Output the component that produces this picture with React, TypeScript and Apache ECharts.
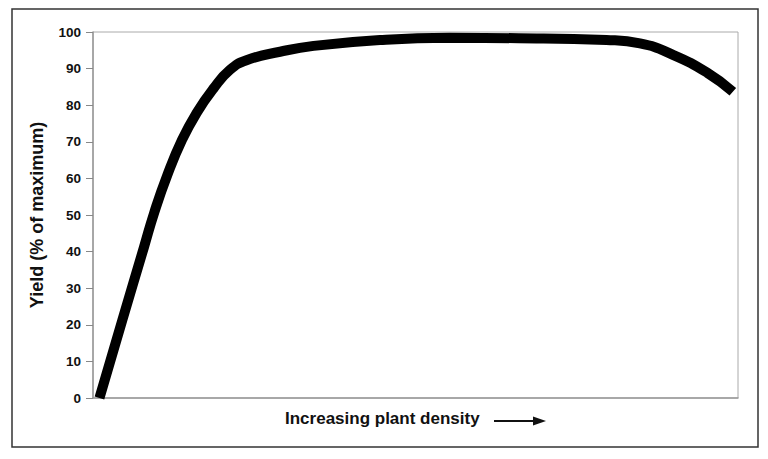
import { useEffect, useRef } from 'react';
import * as echarts from 'echarts';

// plant density (relative position along the axis, 0-100) and yield (% of maximum)
const density = [1.0, 4.5, 7.9, 9.5, 11.5, 13.8, 16.1, 18.7, 21.2, 23.8, 29.0, 34.2, 44.5, 55.3, 66.0, 79.6, 84.8, 90.0, 95.2, 99.2];
const yieldPct = [0, 21.0, 41.2, 50.7, 60.8, 70.5, 78.0, 84.6, 89.6, 92.3, 94.6, 96.2, 97.8, 98.4, 98.3, 97.8, 96.9, 93.7, 88.9, 83.7];

const yTicks = [0, 10, 20, 30, 40, 50, 60, 70, 80, 90, 100];

const xName = 'Increasing plant density';
const yName = 'Yield (% of maximum)';

const FONT = '"Liberation Sans", Arial, Helvetica, sans-serif';

const App = () => {
  const chartRef = useRef<HTMLDivElement>(null);

  useEffect(() => {
    document.body.style.margin = '0';
    if (!chartRef.current) return;
    const chart = echarts.init(chartRef.current, undefined, { renderer: 'svg' });

    const options: echarts.EChartsOption = {
      animation: false,
      backgroundColor: '#fff',
      grid: {
        left: 93,
        top: 32,
        right: 30,
        bottom: 61,
        show: true,
        borderColor: '#aaa',
        borderWidth: 1,
      },
      xAxis: {
        type: 'value',
        min: 0,
        max: 100,
        axisLine: { show: true, lineStyle: { color: '#999', width: 1.5 } },
        axisTick: { show: false },
        axisLabel: { show: false },
        splitLine: { show: false },
      },
      yAxis: {
        type: 'value',
        min: yTicks[0],
        max: yTicks[yTicks.length - 1],
        interval: 10,
        name: yName,
        nameLocation: 'middle',
        nameRotate: 90,
        nameGap: 47,
        nameTextStyle: { fontFamily: FONT, fontWeight: 'bold', fontSize: 18, color: '#111' },
        axisLine: { show: true, lineStyle: { color: '#999', width: 1.5 } },
        axisTick: { show: true, length: 7, lineStyle: { color: '#888' } },
        axisLabel: { fontFamily: FONT, fontWeight: 'bold', fontSize: 13.5, color: '#111', margin: 12 },
        splitLine: { show: false },
      },
      series: [
        {
          type: 'line',
          data: density.map((d, i) => [d, yieldPct[i]]),
          smooth: 0.5,
          showSymbol: false,
          lineStyle: { color: '#000', width: 10, cap: 'butt' },
        },
      ],
      graphic: [
        {
          type: 'rect',
          shape: { x: 12, y: 9, width: 746, height: 438 },
          style: { fill: 'none', stroke: '#333', lineWidth: 1.5 },
          silent: true,
        },
        {
          type: 'text',
          left: 285,
          top: 410,
          style: { text: xName, font: `bold 17px ${FONT}`, fill: '#111' },
        },
        {
          type: 'line',
          shape: { x1: 494, y1: 421, x2: 536, y2: 421 },
          style: { stroke: '#111', lineWidth: 2 },
        },
        {
          type: 'polygon',
          shape: { points: [[533, 416.5], [546, 421], [533, 425.5]] },
          style: { fill: '#111' },
        },
      ],
    };

    chart.setOption(options);
    return () => {
      chart.dispose();
    };
  }, []);

  return <div ref={chartRef} style={{ width: 768, height: 459 }} />;
};

export default App;
